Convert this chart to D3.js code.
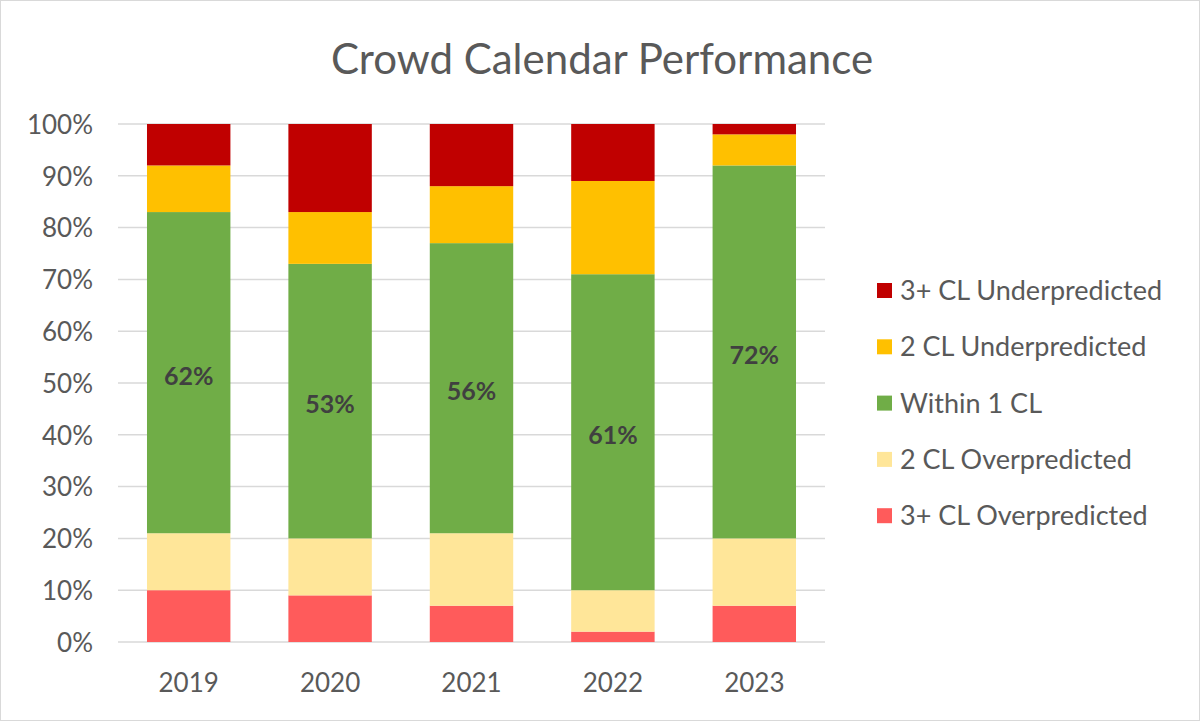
<!DOCTYPE html>
<html><head><meta charset="utf-8">
<script src="https://cdn.jsdelivr.net/npm/d3@7"></script>
<style>
html,body{margin:0;padding:0;background:#fff;}
svg{display:block;font-family:Lato,"Open Sans",sans-serif;}
</style></head>
<body><svg id="c" width="1200" height="721"></svg>
<script>
const years = ["2019","2020","2021","2022","2023"];
const seriesNames = ["3+ CL Overpredicted","2 CL Overpredicted","Within 1 CL","2 CL Underpredicted","3+ CL Underpredicted"];
const over3 = [10, 9, 7, 2, 7];
const over2 = [11, 11, 14, 8, 13];
const within1 = [62, 53, 56, 61, 72];
const under2 = [9, 10, 11, 18, 6];
const under3 = [8, 17, 12, 11, 2];
const colors = ["#FF5B5B","#FFE699","#70AD47","#FFC000","#C00000"];
const yTicks = [0,10,20,30,40,50,60,70,80,90,100];

const seriesVals = [over3, over2, within1, under2, under3];
const rows = years.map((y,i)=>{const r={year:y}; seriesNames.forEach((s,k)=>r[s]=seriesVals[k][i]); return r;});
const stacked = d3.stack().keys(seriesNames)(rows);

const svg = d3.select("#c");
svg.append("rect").attr("x",0.5).attr("y",0.5).attr("width",1199).attr("height",720)
  .attr("fill","#fff").attr("stroke","#d9d9d9");

const x = d3.scaleBand().domain(years).range([118,825]).paddingInner(0.41).paddingOuter(0.205);
const y = d3.scaleLinear().domain([0,100]).range([642,124]);

// grid
svg.append("g").selectAll("line").data(yTicks).join("line")
  .attr("x1",118).attr("x2",825).attr("y1",d=>y(d)).attr("y2",d=>y(d))
  .attr("stroke","#d9d9d9").attr("stroke-width",1.5);

// y axis labels
const ya = svg.append("g").attr("transform","translate(93,0)")
  .call(d3.axisLeft(y).tickValues(yTicks).tickFormat(d=>d+"%").tickSize(0).tickPadding(0));
ya.select(".domain").remove();
ya.selectAll("text").attr("font-size",26).attr("fill","#595959").attr("dy","0.36em").style("font-family","Lato,'Open Sans',sans-serif");

// bars
svg.append("g").selectAll("g").data(stacked).join("g").attr("fill",(d,i)=>colors[i])
  .selectAll("rect").data(d=>d).join("rect")
  .attr("x",d=>x(d.data.year)).attr("width",x.bandwidth())
  .attr("y",d=>y(d[1])).attr("height",d=>y(d[0])-y(d[1]));

// data labels on green
const g = stacked[2];
svg.append("g").selectAll("text").data(g).join("text")
  .attr("x",d=>x(d.data.year)+x.bandwidth()/2).attr("y",d=>y((d[0]+d[1])/2)+12)
  .attr("text-anchor","middle").attr("font-size",25).attr("font-weight","bold").attr("fill","#404040")
  .text(d=>(d[1]-d[0])+"%");

// x axis labels
const xa = svg.append("g").attr("transform","translate(0,692)")
  .call(d3.axisBottom(x).tickSize(0).tickPadding(0));
xa.select(".domain").remove();
xa.selectAll("text").attr("font-size",26).attr("fill","#595959").attr("dy","0").style("font-family","Lato,'Open Sans',sans-serif");

// title
svg.append("text").attr("x",602).attr("y",74).attr("text-anchor","middle")
  .attr("font-size",42).attr("fill","#595959").text("Crowd Calendar Performance");

// legend
const legOrder = [4,3,2,1,0];
const leg = svg.append("g").selectAll("g").data(legOrder).join("g")
  .attr("transform",(d,i)=>`translate(877,${291+i*56.3})`);
leg.append("rect").attr("x",0).attr("y",-8).attr("width",15).attr("height",15).attr("fill",d=>colors[d]);
leg.append("text").attr("x",23).attr("y",9).attr("font-size",27).attr("fill","#595959").text(d=>seriesNames[d]);
</script></body></html>
